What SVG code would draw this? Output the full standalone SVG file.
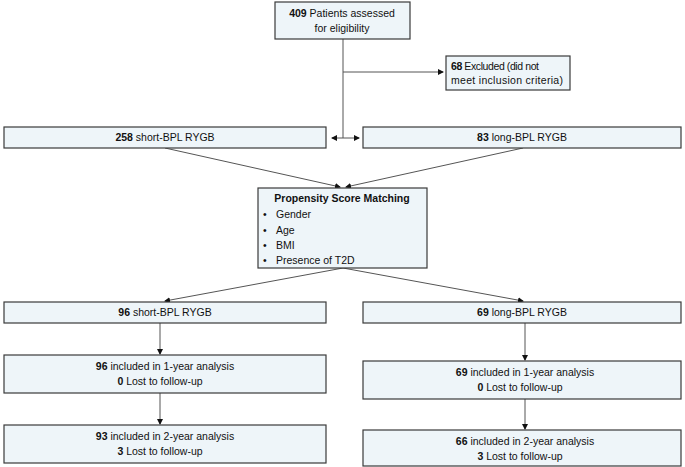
<svg xmlns="http://www.w3.org/2000/svg" width="685" height="467" viewBox="0 0 685 467">
<style>
.b{fill:#eef5f9;stroke:#3a3a3a;stroke-width:1.2}
text{font-family:"Liberation Sans",Arial,sans-serif;font-size:10.5px;fill:#111}
.c{text-anchor:middle}
.l{stroke:#555;stroke-width:1;fill:none;marker-end:url(#a)}
</style>
<defs><marker id="a" markerWidth="6" markerHeight="6" refX="5" refY="3" orient="auto"><path d="M0,0L6,3L0,6z" fill="#111"/></marker></defs>
<rect width="685" height="467" fill="#fff"/>
<g id="connectors">
<path class="l" d="M343,39V138H332"/><path class="l" d="M343,138H359"/>
<path class="l" d="M343,72H443"/>
<path class="l" d="M165,148L340,187"/><path class="l" d="M523,148L346,187"/>
<path class="l" d="M343,268L165,301"/><path class="l" d="M343,268L523,301"/>
<path class="l" d="M160,323V354"/><path class="l" d="M160,393V424"/>
<path class="l" d="M525,323V360"/><path class="l" d="M525,399V429"/>
</g>
<g id="n1"><rect class="b" x="275" y="2" width="135" height="37"/><text class="c" x="342" y="17"><tspan font-weight="bold">409</tspan> Patients assessed</text><text class="c" x="342" y="32">for eligibility</text></g>
<g id="n2"><rect class="b" x="446" y="56" width="124" height="34"/><text x="451" y="70" textLength="88"><tspan font-weight="bold">68</tspan> Excluded (did not</text><text x="451" y="84" textLength="112">meet inclusion criteria)</text></g>
<g id="n3"><rect class="b" x="4" y="127" width="322" height="21"/><text class="c" x="165" y="141"><tspan font-weight="bold">258</tspan> short-BPL RYGB</text></g>
<g id="n4"><rect class="b" x="363" y="127" width="318" height="21"/><text class="c" x="522" y="141"><tspan font-weight="bold">83</tspan> long-BPL RYGB</text></g>
<g id="n5"><rect class="b" x="258" y="188" width="169" height="80"/><text class="c" x="342" y="202" font-weight="bold">Propensity Score Matching</text>
<text x="263" y="218">•</text><text x="276" y="218">Gender</text><text x="263" y="234">•</text><text x="276" y="234">Age</text><text x="263" y="249">•</text><text x="276" y="249">BMI</text><text x="263" y="264">•</text><text x="276" y="264">Presence of T2D</text></g>
<g id="n6"><rect class="b" x="4" y="302" width="322" height="21"/><text class="c" x="165" y="316"><tspan font-weight="bold">96</tspan> short-BPL RYGB</text></g>
<g id="n7"><rect class="b" x="363" y="302" width="318" height="21"/><text class="c" x="522" y="316"><tspan font-weight="bold">69</tspan> long-BPL RYGB</text></g>
<g id="n8"><rect class="b" x="4" y="355" width="322" height="38"/><text class="c" x="165" y="370"><tspan font-weight="bold">96</tspan> included in 1-year analysis</text><text class="c" x="160" y="385"><tspan font-weight="bold">0</tspan> Lost to follow-up</text></g>
<g id="n9"><rect class="b" x="363" y="361" width="318" height="38"/><text class="c" x="525" y="376"><tspan font-weight="bold">69</tspan> included in 1-year analysis</text><text class="c" x="520" y="391"><tspan font-weight="bold">0</tspan> Lost to follow-up</text></g>
<g id="n10"><rect class="b" x="4" y="425" width="322" height="38"/><text class="c" x="165" y="440"><tspan font-weight="bold">93</tspan> included in 2-year analysis</text><text class="c" x="160" y="455"><tspan font-weight="bold">3</tspan> Lost to follow-up</text></g>
<g id="n11"><rect class="b" x="363" y="430" width="318" height="36"/><text class="c" x="525" y="445"><tspan font-weight="bold">66</tspan> included in 2-year analysis</text><text class="c" x="520" y="460"><tspan font-weight="bold">3</tspan> Lost to follow-up</text></g>
</svg>
